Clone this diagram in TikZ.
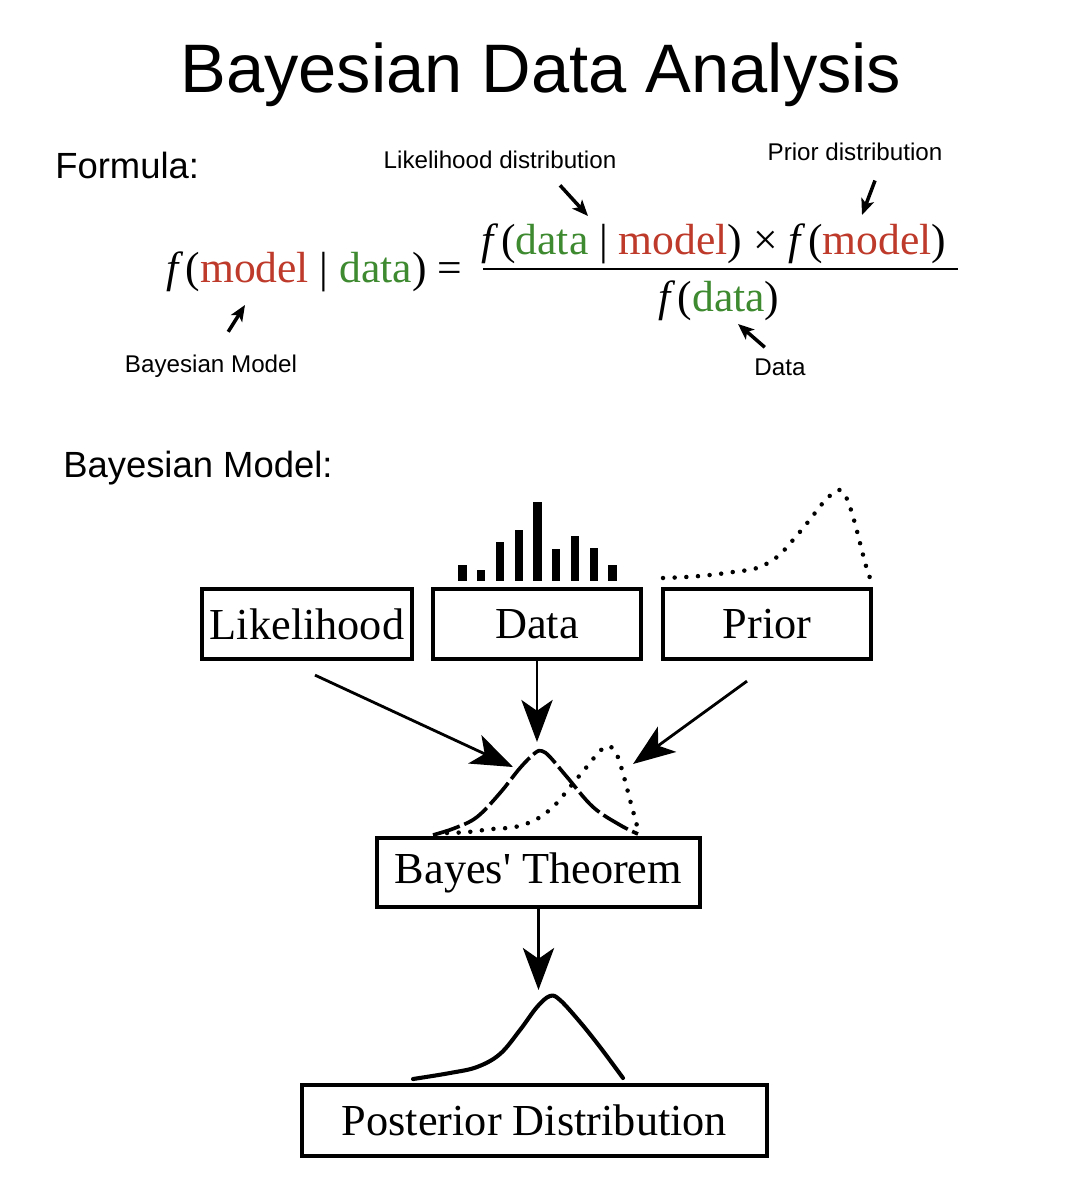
\documentclass[tikz,border=0pt]{standalone}
\usepackage{fontspec}
\setmainfont{Liberation Serif}
\setsansfont{Liberation Sans}
\usetikzlibrary{arrows.meta}
\definecolor{modelred}{RGB}{190,58,42}
\definecolor{datagreen}{RGB}{62,138,48}

\begin{document}
\begin{tikzpicture}[x=0.025cm, y=-0.025cm,
    diabox/.style={draw, line width=3pt, inner sep=0pt, minimum height=1.75cm, font=\fontsize{31.5}{36}\selectfont},
    lbl/.style={inner sep=0pt, anchor=base, font=\sffamily\fontsize{17.2}{20}\selectfont},
    hdr/.style={inner sep=0pt, anchor=base west, font=\sffamily\fontsize{25.9}{30}\selectfont},
    fml/.style={inner sep=0pt, font=\fontsize{31}{36}\selectfont},
    small arrow/.style={-{Stealth[length=0.4cm, width=0.33cm, inset=0.1cm]}, line width=2.5pt},
    big arrow/.style={-{Stealth[length=1.05cm, width=0.78cm, inset=0.27cm]}, line width=2pt},
    distline/.style={line width=2.6pt, line join=round, line cap=round},
    dotline/.style={distline, line width=3.2pt, dash pattern=on 0pt off 8.3pt}]
  \useasboundingbox (0,0) rectangle (1080,1204);

  \node[inner sep=0pt, anchor=base, font=\sffamily\fontsize{48.8}{56}\selectfont] (title) at (541,92) {Bayesian Data Analysis};
  \node[hdr] (formula) at (55,178) {Formula:};
  \node[hdr] (bmhead) at (63,477) {Bayesian Model:};

  \node[fml, anchor=base west] (lhs) at (166,282) {\textit{f}\kern.05em(\textcolor{modelred}{model} | \textcolor{datagreen}{data}) =};
  \node[fml, anchor=base] (num) at (714,254) {\textit{f}\kern.05em(\textcolor{datagreen}{data} | \textcolor{modelred}{model}) × \textit{f}\kern.05em(\textcolor{modelred}{model})};
  \node[fml, anchor=base] (den) at (719,311) {\textit{f}\kern.05em(\textcolor{datagreen}{data})};
  \draw[line width=1.8pt] (483,269) -- (958,269);

  \node[lbl] (liklbl) at (500,168) {Likelihood distribution};
  \node[lbl] (prilbl) at (855,160) {Prior distribution};
  \node[lbl] (bmlbl) at (211,372) {Bayesian Model};
  \node[lbl] (datlbl) at (780,375) {Data};

  \coordinate (liktip) at (588,216);
  \coordinate (pritip) at (862,215);
  \coordinate (bmtip) at (245,305);
  \coordinate (dattip) at (738,324);
  \draw[small arrow] ([xshift=1.5cm,yshift=-.42cm]liklbl.south) -- (liktip);
  \draw[small arrow] ([xshift=.5cm,yshift=-.5cm]prilbl.south) -- (pritip);
  \draw[small arrow] ([xshift=.43cm,yshift=.56cm]bmlbl.north) -- (bmtip);
  \draw[small arrow] ([xshift=-.38cm,yshift=.27cm]datlbl.north) -- (dattip);

  \node[diabox, minimum width=5.25cm] (lik) at (307,624) {Likelihood};
  \node[diabox, minimum width=5.2cm] (dat) at (537,624) {Data};
  \node[diabox, minimum width=5.2cm] (pri) at (767,624) {Prior};
  \node[diabox, minimum width=8.08cm, minimum height=1.73cm] (bay) at (538.5,872.5) {Bayes\textquotesingle\ Theorem};
  \node[diabox, minimum width=11.63cm, minimum height=1.78cm] (pos) at (534.5,1120.5) {Posterior Distribution};

  \foreach \bx/\by in {462.5/565, 481.25/570, 500/542, 518.75/530, 537.5/502, 556.25/549, 575/536, 593.75/548, 612.5/565}
    \fill (\bx-4.2,\by) rectangle (\bx+4.2,581);

  \draw[dotline] plot[smooth, tension=.6] coordinates {(663,578) (686,577) (710,575) (733,572) (757,568) (777,557) (793,540) (808,522) (822,504) (832,494) (840,490) (847,499) (854,520) (860,543) (866,566) (870,578)};

  \coordinate (likend) at (513,767);
  \coordinate (datend) at (537,742);
  \coordinate (priend) at (633,764);
  \coordinate (bayend) at (538.5,990);
  \draw[big arrow] ([xshift=.2cm,yshift=-.35cm]lik.south) -- (likend);
  \draw[big arrow] (dat) -- (datend);
  \draw[big arrow] ([xshift=-.5cm,yshift=-.5cm]pri.south) -- (priend);
  \draw[big arrow] (bay) -- (bayend);

  \draw[distline, dash pattern=on 20pt off 3.5pt, line cap=butt] plot[smooth, tension=.6] coordinates {(433,835) (455,828) (477,817) (500,793) (520,768) (535,753) (542,751) (550,757) (567,777) (593,807) (620,825) (638,834)};
  \draw[dotline] plot[smooth, tension=.6] coordinates {(447,833) (468,832) (492,829) (515,827) (537,819) (555,805) (570,787) (585,769) (600,751) (609,746) (617,755) (624,777) (630,800) (636,822) (638,830)};

  \draw[distline, line width=2.9pt] plot[smooth, tension=.6] coordinates {(413,1079) (450,1073) (477,1067) (500,1054) (520,1030) (537,1007) (550,996) (560,1000) (580,1022) (600,1047) (623,1078)};
\end{tikzpicture}
\end{document}
